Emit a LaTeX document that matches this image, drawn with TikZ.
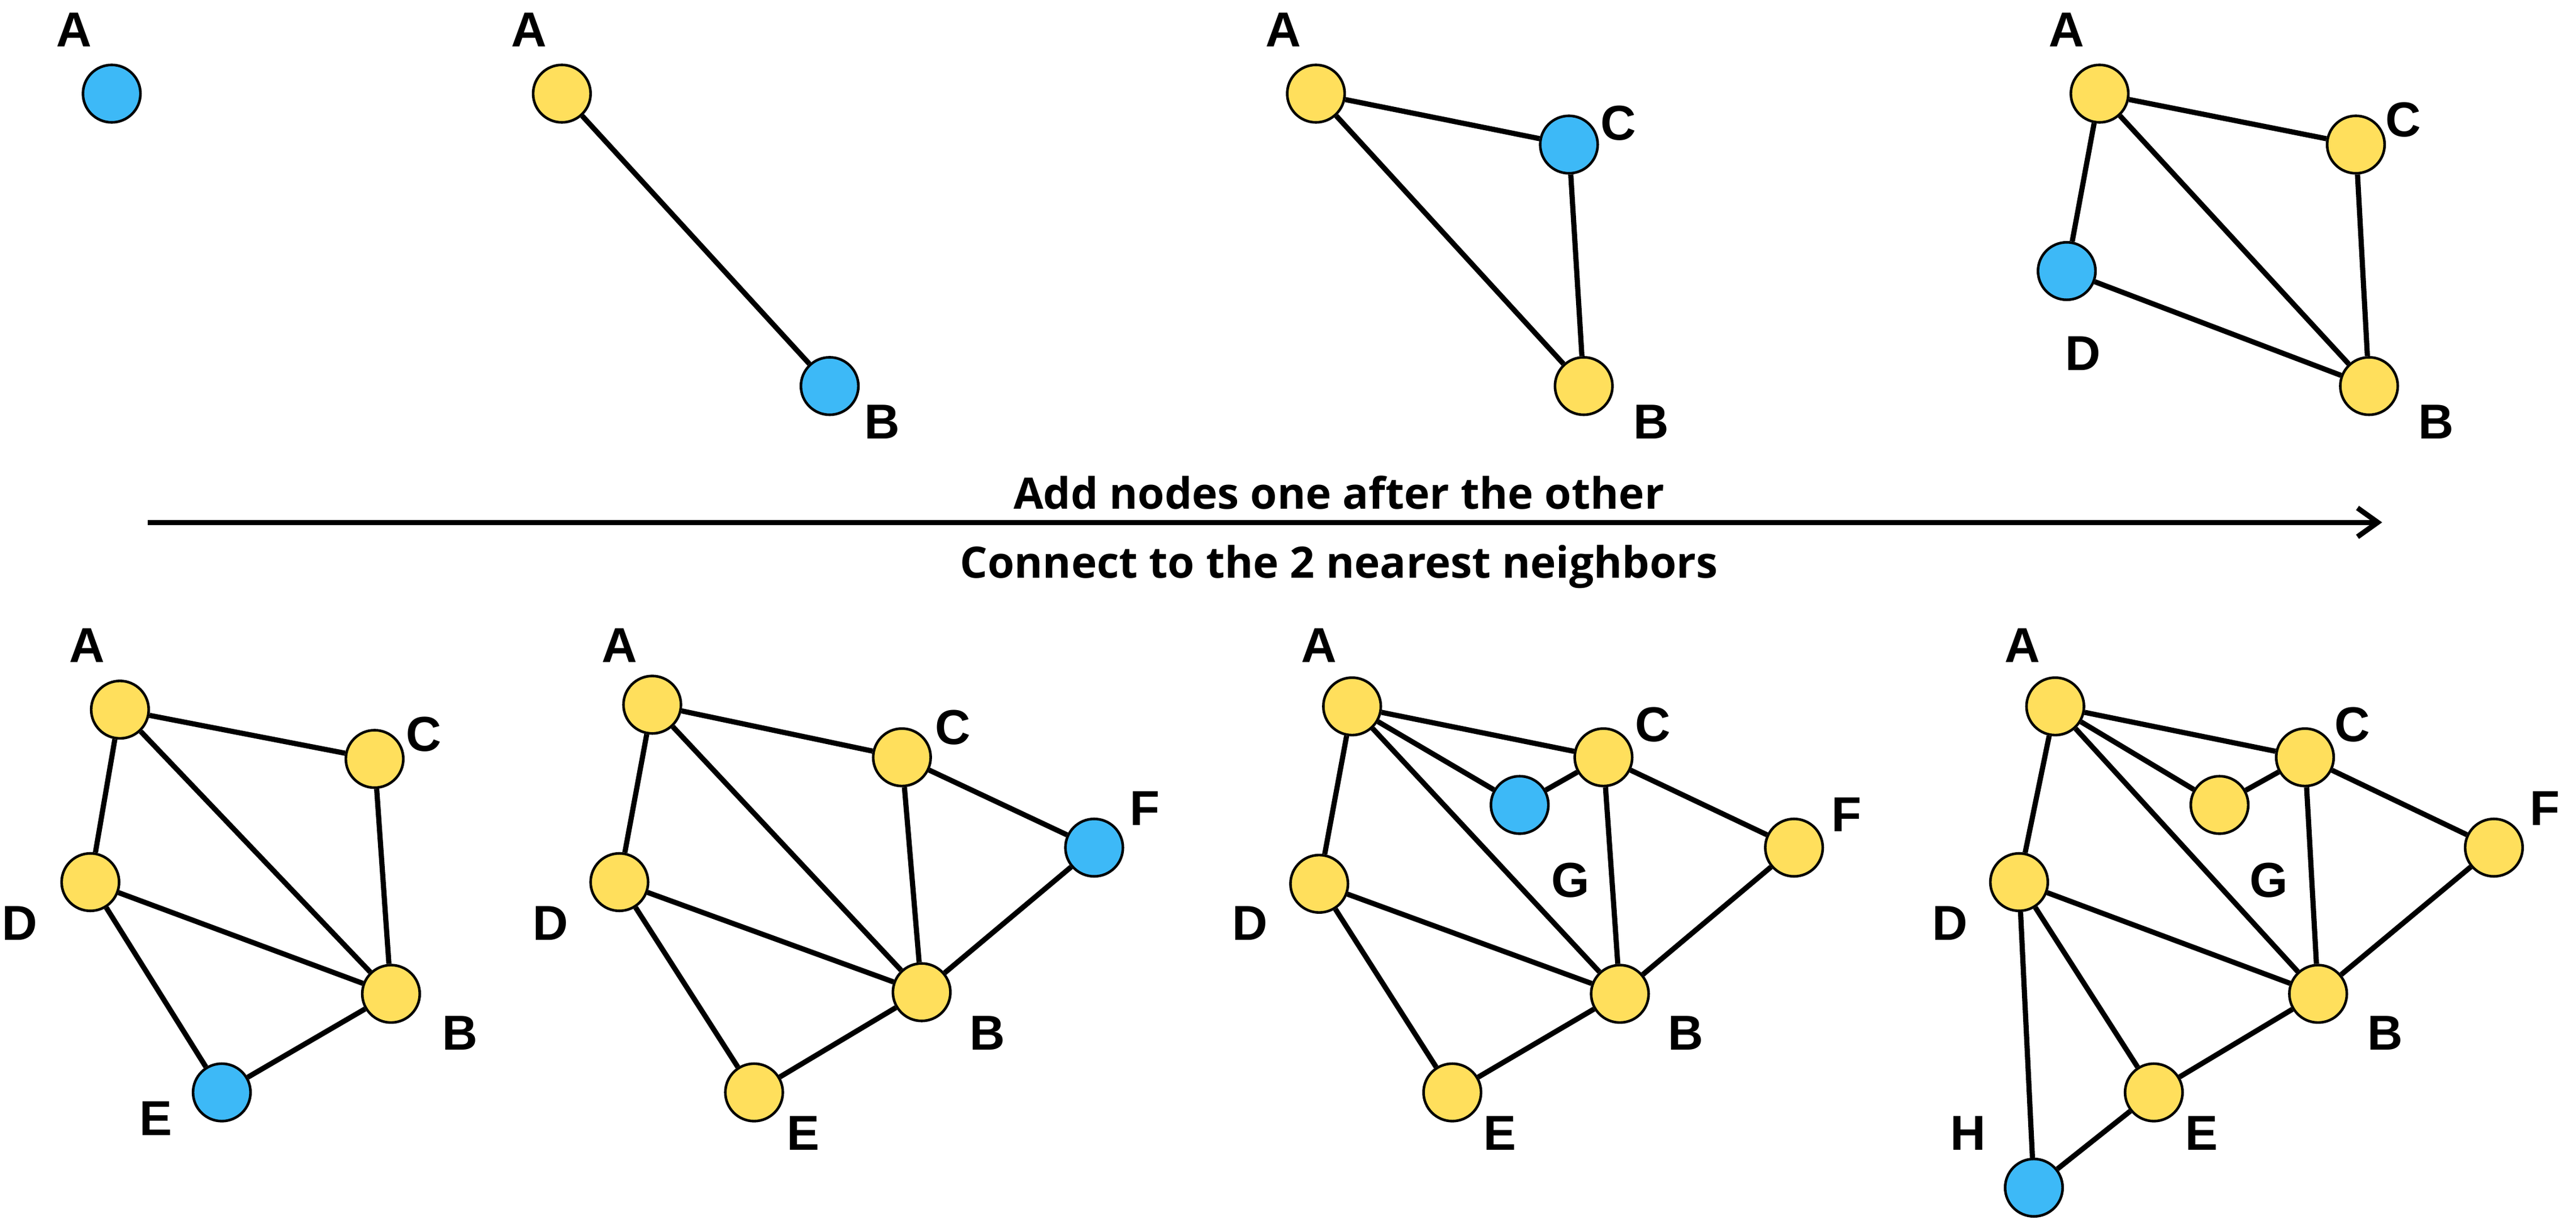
\documentclass[tikz,border=0pt]{standalone}
\usetikzlibrary{arrows.meta}
\usepackage{fontspec}
\setmainfont{Liberation Sans}
\newfontfamily\capfont{Open Sans}
\begin{document}
\begin{tikzpicture}[x=0.02cm,y=-0.02cm,
 nd/.style={circle,draw=black,line width=0.9pt,minimum size=0.7cm,inner sep=0pt},
 yel/.style={nd,fill=yellowc}, blu/.style={nd,fill=bluec},
 lab/.style={font=\fontsize{17}{17}\selectfont\bfseries},
 ed/.style={line width=1.8pt}]
\definecolor{yellowc}{HTML}{FFDF5C}
\definecolor{bluec}{HTML}{3DB9F7}
\useasboundingbox (0,0) rectangle (1568,748);
% panel 1
\node[blu] (a1) at (68,57) {}; \node[lab] (la1) at (45,18) {A};
% panel 2
\node[yel] (a2) at (342,57) {}; \node[lab] (la2) at (322,18) {A};
\node[blu] (b2) at (505,235) {}; \node[lab] (lb2) at (537,257) {B};
\draw[ed] (a2)--(b2);
% panel 3
\node[yel] (a3) at (801,57) {}; \node[lab] (la3) at (781,18) {A};
\node[blu] (c3) at (955,88) {}; \node[lab] (lc3) at (985,75) {C};
\node[yel] (b3) at (964,235) {}; \node[lab] (lb3) at (1005,257) {B};
\draw[ed] (a3)--(c3) (a3)--(b3) (c3)--(b3);
% panel 4
\node[yel] (a4) at (1278,57) {}; \node[lab] (la4) at (1258,18) {A};
\node[yel] (c4) at (1434,88) {}; \node[lab] (lc4) at (1463,73) {C};
\node[blu] (d4) at (1258,165) {}; \node[lab] (ld4) at (1268,215) {D};
\node[yel] (b4) at (1442,235) {}; \node[lab] (lb4) at (1483,257) {B};
\draw[ed] (a4)--(c4) (a4)--(b4) (c4)--(b4) (a4)--(d4) (d4)--(b4);
% arrow
\coordinate (s) at (90,318); \coordinate (t) at (1450,318);
\draw[line width=1.8pt,-{Straight Barb[length=7pt,width=10pt]}] (s)--(t);
\node[font=\capfont\fontsize{15}{15}\selectfont\bfseries] (tt1) at (815,300) {Add nodes one after the other};
\node[font=\capfont\fontsize{15}{15}\selectfont\bfseries] (tt2) at (815,345) {Connect to the 2 nearest neighbors};
% panel 5
\node[yel] (a5) at (73,432) {}; \node[lab] at (53,393) {A};
\node[yel] (c5) at (228,462) {}; \node[lab] at (258,447) {C};
\node[yel] (d5) at (55,537) {}; \node[lab] at (12,562) {D};
\node[yel] (b5) at (238,605) {}; \node[lab] at (280,629) {B};
\node[blu] (e5) at (135,665) {}; \node[lab] at (95,681) {E};
\draw[ed] (a5)--(c5) (a5)--(d5) (a5)--(b5) (c5)--(b5) (d5)--(b5) (d5)--(e5) (e5)--(b5);
% panel 6
\node[yel] (a6) at (397,429) {}; \node[lab] at (377,393) {A};
\node[yel] (c6) at (549,461) {}; \node[lab] at (580,443) {C};
\node[blu] (f6) at (666,516) {}; \node[lab] at (697,492) {F};
\node[yel] (d6) at (377,537) {}; \node[lab] at (335,562) {D};
\node[yel] (b6) at (561,604) {}; \node[lab] at (601,629) {B};
\node[yel] (e6) at (459,665) {}; \node[lab] at (489,690) {E};
\draw[ed] (a6)--(c6) (a6)--(d6) (a6)--(b6) (c6)--(b6) (d6)--(b6) (d6)--(e6) (e6)--(b6) (c6)--(f6) (f6)--(b6);
% panel 7
\node[yel] (a7) at (823,430) {}; \node[lab] at (803,393) {A};
\node[yel] (c7) at (976,461) {}; \node[lab] at (1006,441) {C};
\node[yel] (f7) at (1092,516) {}; \node[lab] at (1124,496) {F};
\node[blu] (g7) at (925,490) {}; \node[lab] at (956,536) {G};
\node[yel] (d7) at (803,538) {}; \node[lab] at (761,562) {D};
\node[yel] (b7) at (986,605) {}; \node[lab] at (1026,629) {B};
\node[yel] (e7) at (884,665) {}; \node[lab] at (913,690) {E};
\draw[ed] (a7)--(c7) (a7)--(g7) (g7)--(c7) (a7)--(d7) (a7)--(b7) (c7)--(b7) (d7)--(b7) (d7)--(e7) (e7)--(b7) (c7)--(f7) (f7)--(b7);
% panel 8
\node[yel] (a8) at (1251,430) {}; \node[lab] at (1231,393) {A};
\node[yel] (c8) at (1403,461) {}; \node[lab] at (1432,441) {C};
\node[yel] (f8) at (1518,516) {}; \node[lab] at (1549,492) {F};
\node[yel] (g8) at (1351,490) {}; \node[lab] at (1381,536) {G};
\node[yel] (d8) at (1229,537) {}; \node[lab] at (1187,562) {D};
\node[yel] (b8) at (1411,605) {}; \node[lab] at (1452,629) {B};
\node[yel] (e8) at (1311,665) {}; \node[lab] at (1340,690) {E};
\node[blu] (h8) at (1238,723) {}; \node[lab] at (1198,690) {H};
\draw[ed] (a8)--(c8) (a8)--(g8) (g8)--(c8) (a8)--(d8) (a8)--(b8) (c8)--(b8) (d8)--(b8) (d8)--(e8) (e8)--(b8) (c8)--(f8) (f8)--(b8) (d8)--(h8) (h8)--(e8);
\end{tikzpicture}
\end{document}
